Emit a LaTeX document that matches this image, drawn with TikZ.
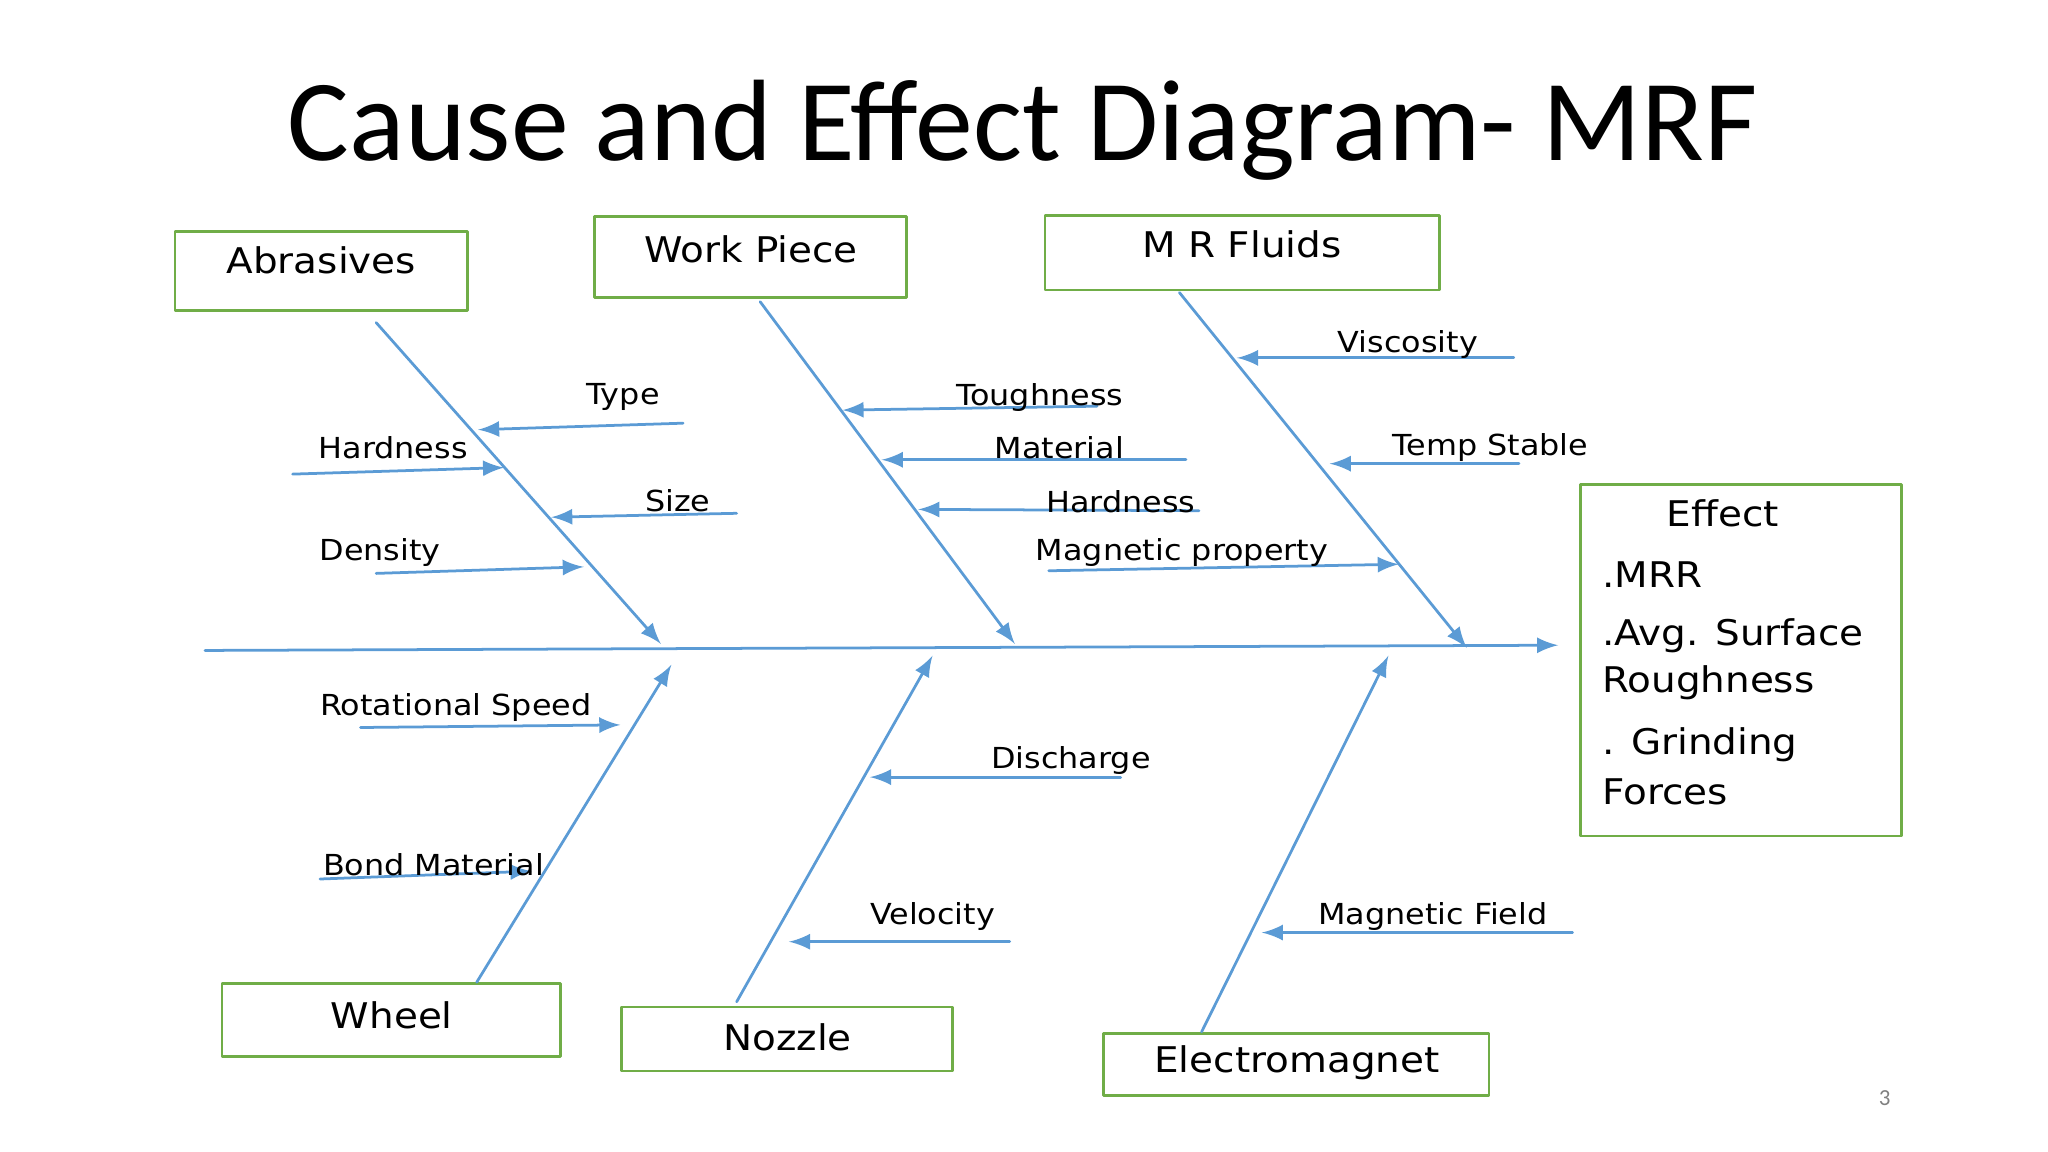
\documentclass[tikz,border=0pt]{standalone}
\usepackage{fontspec}
\setmainfont{DejaVu Sans}[FakeStretch=1.1]
\newfontfamily\titlefont{Carlito}
\usetikzlibrary{arrows,positioning}
\definecolor{boxgreen}{HTML}{70AD47}
\definecolor{boneblue}{HTML}{5B9BD5}
\tikzstyle{every path}=[line cap=round,line join=round]
\tikzstyle{cause}=[draw=boxgreen,line width=0.6pt]
\tikzstyle{bone}=[draw=boneblue,line width=0.6pt,-latex]
\tikzstyle{lbl}=[font=\fontsize{6.3}{7}\selectfont,inner sep=0pt]
\tikzstyle{big}=[font=\fontsize{7.7}{8}\selectfont,inner sep=0pt]
\begin{document}
\begin{tikzpicture}[x=0.01cm,y=-0.01cm]
\useasboundingbox (0,0) rectangle (1568,882);
\node[font=\titlefont\fontsize{25.2}{27}\selectfont] (title) at (783,100) {Cause and Effect Diagram- MRF};

% cause boxes
\draw[cause] (134,177) rectangle (358,238); \node[big] (abr) at (246,199) {Abrasives};
\draw[cause] (455,166) rectangle (694,228); \node[big] (wp) at (575,191) {Work Piece};
\draw[cause] (800,165) rectangle (1102,222); \node[big] (mrf) at (951,187) {M R Fluids};
\draw[cause] (170,753) rectangle (429,809); \node[big] (wheel) at (300,777) {Wheel};
\draw[cause] (476,771) rectangle (729,820); \node[big] (noz) at (603,794) {Nozzle};
\draw[cause] (845,791) rectangle (1140,839); \node[big] (em) at (993,814) {Electromagnet};

% effect box
\draw[cause] (1210,371) rectangle (1456,640);
\node[big] (eff) at (1319,393) {Effect};
\node[big,anchor=west] (e1) at (1226,440) {.MRR};
\node[big,anchor=west] (e2) at (1226,487) {.Avg. Surface};
\node[big,anchor=west] (e3) at (1226,523) {Roughness};
\node[big,anchor=west] (e4) at (1226,570) {. Grinding};
\node[big,anchor=west] (e5) at (1226,606) {Forces};

% spine and bones
\draw[bone] (157,498) -- (1193,494);
\draw[bone] (288,247) -- (506,493);
\draw[bone] (582,231) -- (777,493);
\draw[bone] (903,224) -- (1123,496);
\draw[bone] (365,752) -- (514,509);
\draw[bone] (564,767) -- (714,502);
\draw[bone] (920,790) -- (1063,502);

% sub causes
\foreach \xa/\ya/\xb/\yb/\lx/\ly/\txt in {
  523/324/366/329/477/304/Type,
  224/363/386/358/301/343/Hardness,
  564/393/422/396/519/383/Size,
  288/439/447/434/291/423/Density,
  840/311/645/314/796/304/Toughness,
  908/352/675/352/811/343/Material,
  918/391/703/390/858/384/Hardness,
  803/437/1071/432/905/423/Magnetic property,
  1159/274/947/274/1078/264/Viscosity,
  1163/355/1018/355/1141/343/Temp Stable,
  276/557/475/555/349/542/Rotational Speed,
  245/673/407/667/332/662/Bond Material,
  858/595/666/595/820/582/Discharge,
  773/721/604/721/714/702/Velocity,
  1204/714/966/714/1097/702/Magnetic Field}{
  \draw[bone] (\xa,\ya) -- (\xb,\yb);
  \node[lbl] at (\lx,\ly) {\txt};
}

\node[font=\titlefont\fontsize{5}{6}\selectfont,text=gray] (page) at (1443,841) {3};
\end{tikzpicture}
\end{document}
